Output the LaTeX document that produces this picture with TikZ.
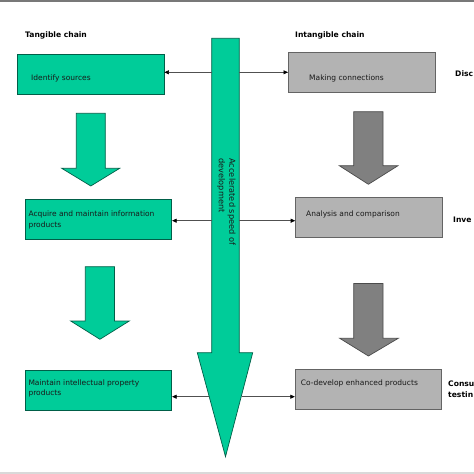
\documentclass[tikz,border=0pt]{standalone}
\usepackage{fontspec}
\setmainfont{DejaVu Sans}
\usetikzlibrary{arrows.meta}
\definecolor{tgreen}{RGB}{0,204,153}
\definecolor{tgreenline}{RGB}{0,95,72}
\definecolor{boxgray}{RGB}{179,179,179}
\definecolor{boxgrayline}{RGB}{100,100,100}
\definecolor{arrgray}{RGB}{128,128,128}
\definecolor{arrgrayline}{RGB}{75,75,75}
\definecolor{topgray}{RGB}{120,120,120}
\definecolor{botgray}{RGB}{217,217,217}
\definecolor{conngray}{RGB}{80,80,80}
\begin{document}
\begin{tikzpicture}[x=1pt,y=-1pt,
  every node/.style={font=\fontsize{7.5}{10.5}\selectfont, inner sep=0pt},
  gbox/.style={draw=tgreenline, fill=tgreen, line width=0.8pt, minimum width=146.7pt, minimum height=40pt},
  ybox/.style={draw=boxgrayline, fill=boxgray, line width=0.8pt, minimum width=146.5pt, minimum height=40pt},
  garrow/.style={draw=tgreenline, fill=tgreen, line width=0.7pt, line join=miter},
  yarrow/.style={draw=arrgrayline, fill=arrgray, line width=0.7pt, line join=miter},
  conn/.style={draw=conngray, line width=0.6pt, -{Triangle[length=4.5pt,width=4pt,fill=black,color=black]}},
  boxtext/.style={anchor=west, align=left, text=black!90},
  header/.style={anchor=west, font=\fontsize{7.6}{10.5}\selectfont\bfseries},
  sidelabel/.style={anchor=west, align=left, font=\fontsize{7.6}{10.5}\selectfont\bfseries}
]
\useasboundingbox (0,0) rectangle (474,474);
\fill[topgray] (0,0) rectangle (474,2);
\fill[botgray] (0,472) rectangle (474,474);

% headers
\node[header] (h1) at (25,35) {Tangible chain};
\node[header] (h2) at (295,35) {Intangible chain};

% boxes
\node[gbox] (b1) at (90.65,74.15) {};
\node[ybox] (g1) at (361.65,72.3) {};
\node[gbox] (b2) at (98.35,219.3) {};
\node[ybox] (g2) at (368.85,217.7) {};
\node[gbox] (b3) at (98.35,390.7) {};
\node[ybox] (g3) at (368.5,389.15) {};

% box texts
\node[boxtext] (t1) at (31,78) {Identify sources};
\node[boxtext] (t2) at (309,78) {Making connections};
\node[boxtext] (t3) at (28.3,220) {Acquire and maintain information\\products};
\node[boxtext] (t4) at (306,214.3) {Analysis and comparison};
\node[boxtext] (t5) at (28.3,388.3) {Maintain intellectual property\\products};
\node[boxtext] (t6) at (300.7,383) {Co-develop enhanced products};

% side labels (cut by the page edge)
\node[sidelabel] (s1) at (455,74) {Disc};
\node[sidelabel] (s2) at (453,220) {Inve};
\node[sidelabel] (s3) at (448,389) {Consu\\testin};

% block arrows
\filldraw[garrow] (76.3,113.3) -- (105.3,113.3) -- (105.3,168.3) -- (119.7,168.3) -- (90.8,186) -- (61.7,168.3) -- (76.3,168.3) -- cycle;
\filldraw[garrow] (85.3,266.7) -- (114.5,266.7) -- (114.5,321) -- (129.3,321) -- (99.9,339.3) -- (70.7,321) -- (85.3,321) -- cycle;
\filldraw[yarrow] (353.7,111.7) -- (383,111.7) -- (383,165.7) -- (398,165.7) -- (368.4,184.3) -- (339.3,165.7) -- (353.7,165.7) -- cycle;
\filldraw[yarrow] (353.7,283.5) -- (383,283.5) -- (383,338.3) -- (398.3,338.3) -- (368.4,356) -- (339.7,338.3) -- (353.7,338.3) -- cycle;

% central arrow
\filldraw[garrow] (211.7,38.3) -- (239.3,38.3) -- (239.3,352.7) -- (252.7,352.7) -- (225.5,456.7) -- (197.3,352.7) -- (211.7,352.7) -- cycle;
\node[rotate=-90, anchor=west, align=left, text=black!90, font=\fontsize{8.2}{10.5}\selectfont] (ca) at (226.5,158.3) {Accelerated speed of\\development};

% connector start points on the central arrow
\coordinate (c1l) at (211.7,72.3);
\coordinate (c1r) at (239.3,72.3);
\coordinate (c2l) at (211.7,220.7);
\coordinate (c2r) at (239.3,220.7);
\coordinate (c3l) at (209.2,396.7);
\coordinate (c3r) at (241.6,396.7);

\draw[conn] (c1l) -- (b1.east |- c1l);
\draw[conn] (c1r) -- (g1.west |- c1r);
\draw[conn] (c2l) -- (b2.east |- c2l);
\draw[conn] (c2r) -- (g2.west |- c2r);
\draw[conn] (c3l) -- (b3.east |- c3l);
\draw[conn] (c3r) -- (g3.west |- c3r);
\end{tikzpicture}
\end{document}
